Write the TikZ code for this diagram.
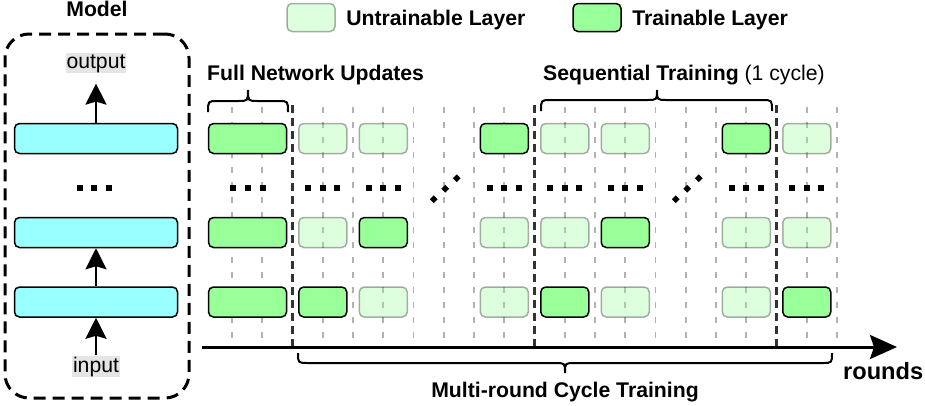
\documentclass[tikz,border=0pt]{standalone}
\usepackage{fontspec}
\setmainfont{Liberation Sans}
\usetikzlibrary{arrows.meta,positioning}
\definecolor{trainG}{HTML}{99FF99}
\definecolor{layC}{HTML}{99FFFF}
\definecolor{cutG}{HTML}{333333}
\newcommand\figfont{\fontsize{21.2}{25}\selectfont}
\begin{document}
\begin{tikzpicture}[x=1pt,y=-1pt,font=\figfont,
    hd/.style={font=\figfont\bfseries},
    train/.style={draw=black, line width=1.5pt, fill=trainG, rounded corners=5pt, minimum width=48pt, minimum height=30pt, inner sep=0pt},
    frozen/.style={train, opacity=0.32},
    layer/.style={draw=black, line width=1.5pt, fill=layC, rounded corners=5pt, minimum width=163pt, minimum height=30pt, inner sep=0pt},
    tag/.style={fill=gray!20, inner sep=1pt},
    arr/.style={line width=2.5pt, -{Stealth[length=21pt,width=21pt,inset=3pt]}},
    brc/.style={line width=2pt},
    sq/.style={fill, inner sep=0pt, minimum size=6pt},
    dia/.style={sq, minimum size=5.5pt, rotate=45},
    vline/.style={gray!60, line width=1.8pt, dash pattern=on 6pt off 9pt},
    cutline/.style={cutG, line width=2.8pt, dash pattern=on 8pt off 5pt}]
\useasboundingbox (0,0) rectangle (925,405);

% model
\node[draw, line width=3pt, dash pattern=on 12pt off 7pt, rounded corners=24pt, minimum width=184pt, minimum height=364pt] (model) at (97,216) {};
\node[hd, anchor=base] (mtitle) at (97,16) {Model};
\node[layer] (lay1) at (96,302) {};
\node[layer] (lay2) at (96,232.5) {};
\node[layer] (layN) at (96,138.5) {};
\node[tag, anchor=base] (outp) at (96,68) {output};
\node[tag, anchor=base] (inp) at (96,372) {input};
\draw[arr] (inp) -- (lay1);
\draw[arr] (lay1) -- (lay2);
\draw[arr, shorten >=10pt] (layN) -- (outp);
\foreach \k in {-1,0,1} \node[sq] (md\k) at ({94+14.5*\k},188) {};

% legend
\node[frozen, minimum height=28pt] (lgU) at (311,17.5) {};
\node[hd, right=7pt of lgU, yshift=-3pt] (lgUt) {Untrainable Layer};
\node[train, minimum height=28pt] (lgT) at (597,17.5) {};
\node[hd, right=7pt of lgT, yshift=-3pt] (lgTt) {Trainable Layer};

% rounds grid
\foreach \i in {0,1,3,4,...,9,11,12,...,17,19,20}
  \draw[vline] ({232+30.25*\i},107) -- ({232+30.25*\i},345);
\foreach \i in {2,10,18}
  \draw[cutline] ({232+30.25*\i},105) -- ({232+30.25*\i},347);

\coordinate (ax0) at (202,347);
\coordinate (ax1) at (897,347);
\draw[line width=3pt, -{Stealth[length=27pt,width=24pt,inset=4pt]}] (ax0) -- (ax1);
\node[anchor=base west, inner sep=0pt, font=\fontsize{23.6}{28}\selectfont\bfseries] (rnd) at (843,379) {rounds};

% full network
\node[train, minimum width=78pt] (full3) at (247.5,138.5) {};
\node[train, minimum width=78pt] (full2) at (247.5,232.5) {};
\node[train, minimum width=78pt] (full1) at (247.5,302) {};
\foreach \k in {-1,0,1} \node[sq] (fd\k) at ({248+15*\k},188) {};

% sequential rounds
\foreach \c/\a/\b/\d in {3/frozen/frozen/train, 5/frozen/train/frozen, 9/train/frozen/frozen, 11/frozen/frozen/train, 13/frozen/train/frozen, 17/train/frozen/frozen, 19/frozen/frozen/train} {
  \node[\a] (t\c) at ({232+30.25*\c},138.5) {};
  \node[\b] (m\c) at ({232+30.25*\c},232.5) {};
  \node[\d] (b\c) at ({232+30.25*\c},302) {};
  \foreach \k in {-1,0,1} \node[sq] (d\c\k) at ({232+30.25*\c+14.5*\k},188) {};
}
\foreach \c in {7,15}
  \foreach \k in {-1,0,1} \node[dia] (g\c\k) at ({233.5+30.25*\c+11.5*\k},{188.7-10.5*\k}) {};

% braces
\draw[brc] (208,112) .. controls (208,101) .. (218,101) -- (238,101) .. controls (248,101) .. (248,90) .. controls (248,101) .. (258,101) -- (278,101) .. controls (288,101) .. (288,112);
\draw[brc] (541,111) .. controls (541,100) .. (551,100) -- (647,100) .. controls (657,100) .. (657,90) .. controls (657,100) .. (667,100) -- (762,100) .. controls (772,100) .. (772,111);
\draw[brc] (298,353) .. controls (298,363) .. (308,363) -- (555,363) .. controls (565,363) .. (565,373) .. controls (565,363) .. (575,363) -- (822,363) .. controls (832,363) .. (832,353);

\node[hd, anchor=base west, inner sep=0pt] (fnu) at (207,80) {Full Network Updates};
\node[anchor=base west, inner sep=0pt] (seq) at (543,80) {\textbf{Sequential Training} (1 cycle)};
\node[hd, anchor=base, inner sep=0pt] (mrc) at (565,397) {Multi-round Cycle Training};

\end{tikzpicture}
\end{document}
